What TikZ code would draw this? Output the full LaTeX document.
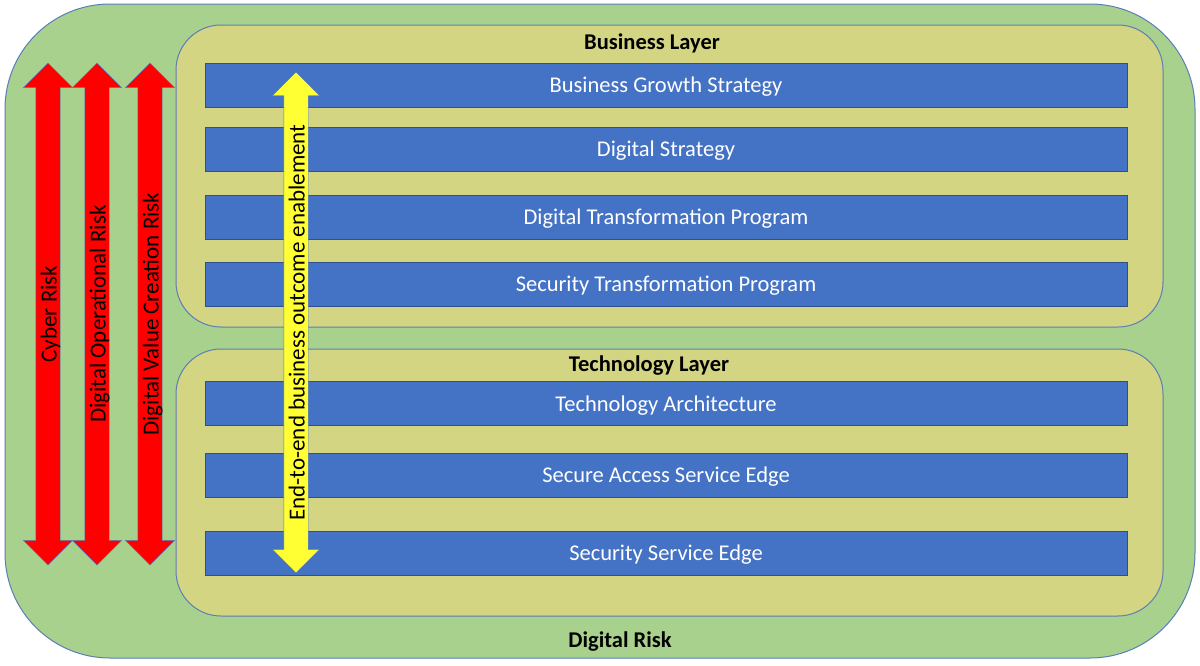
\documentclass[tikz,border=0pt]{standalone}
\usepackage{fontspec}
\setmainfont{Carlito}
\usetikzlibrary{positioning,shapes.arrows}

\definecolor{riskgreen}{HTML}{A9D18E}
\definecolor{layerolive}{HTML}{D3D583}
\definecolor{barblue}{HTML}{4472C4}
\definecolor{edgeblue}{HTML}{5B7DB8}
\definecolor{riskred}{HTML}{FF0000}
\definecolor{enableyellow}{HTML}{FFFF33}

\tikzset{
  riskarea/.style={draw=edgeblue, fill=riskgreen, line width=1pt, rounded corners=105pt,
    minimum width=1190pt, minimum height=654pt},
  layer/.style={draw=edgeblue, fill=layerolive, line width=1pt, rounded corners=45pt,
    minimum width=987pt},
  layertitle/.style={anchor=base, font=\fontsize{22.5}{27}\selectfont\bfseries},
  bar/.style={draw=barblue!70!black, fill=barblue, text=white, inner sep=0pt,
    minimum width=922pt, minimum height=44pt, text height=15pt, text depth=0pt,
    font=\fontsize{22.5}{27}\selectfont},
  riskarrow/.style={double arrow, draw=edgeblue, fill=riskred, rotate=90,
    double arrow tip angle=90, double arrow head extend=12.5pt, double arrow head indent=0pt,
    minimum height=502pt, text height=19pt, text depth=2pt, inner xsep=0pt, inner ysep=1.5pt,
    font=\fontsize{23}{27}\selectfont},
}

\begin{document}
\begin{tikzpicture}[x=1pt, y=-1pt]
    \useasboundingbox (0,0) rectangle (1200,665);

    \node[riskarea]                         (digitalrisk) at (600,331) {};
    \node[layer, minimum height=302pt]      (business)    at (669.5,176) {};
    \node[layer, minimum height=267pt]      (technology)  at (669.5,482.5) {};

    \node[layertitle] (businesstitle)   at (652,49)  {Business Layer};
    \node[layertitle] (technologytitle) at (649,371) {Technology Layer};
    \node[layertitle] (risktitle)       at (620,647) {Digital Risk};

    % business layer
    \node[bar]                      (growth)    at (666,85) {Business Growth Strategy};
    \node[bar, below=20pt of growth]   (digital)   {Digital Strategy};
    \node[bar, below=23pt of digital]  (dtp)       {Digital Transformation Program};
    \node[bar, below=23pt of dtp]      (stp)       {Security Transformation Program};

    % technology layer
    \node[bar]                      (architecture) at (666,403.5) {Technology Architecture};
    \node[bar, below=27.5pt of architecture] (sase) {Secure Access Service Edge};
    \node[bar, below=33pt of sase]           (sse)  {Security Service Edge};

    % risks
    \node[riskarrow] (cyber)       at (48,314)  {Cyber Risk};
    \node[riskarrow] (operational) at (97,314)  {Digital Operational Risk};
    \node[riskarrow] (valuerisk)   at (150,314) {Digital Value Creation Risk};

    \node[riskarrow, fill=enableyellow, minimum height=501pt, double arrow head extend=11.5pt]
        (enablement) at (296,322.5) {End-to-end business outcome enablement};
\end{tikzpicture}
\end{document}
